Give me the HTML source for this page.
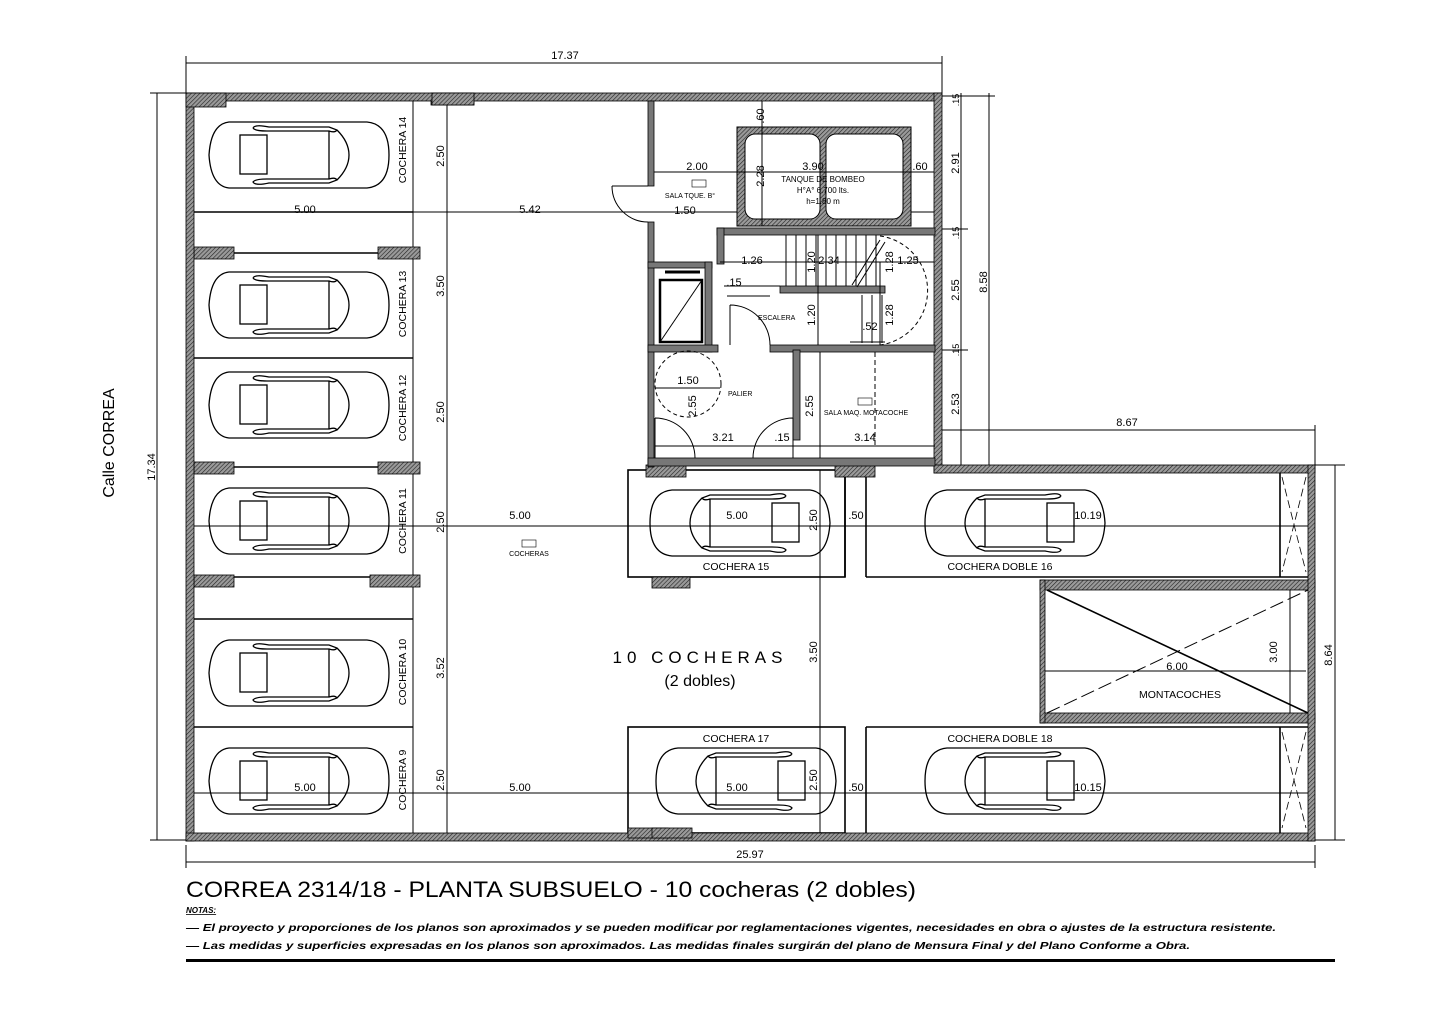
<!DOCTYPE html>
<html><head><meta charset="utf-8"><style>
html,body{margin:0;padding:0;background:#fff;}
svg{display:block;}
text{font-family:"Liberation Sans",sans-serif;fill:#000;}
</style></head><body>
<svg width="1440" height="1018" viewBox="0 0 1440 1018" xmlns="http://www.w3.org/2000/svg">
<defs>
<pattern id="h" width="3" height="3" patternUnits="userSpaceOnUse" patternTransform="rotate(45)">
<rect width="3" height="3" fill="#9a9a9a"/><line x1="0" y1="0" x2="0" y2="3" stroke="#222" stroke-width="1.2"/>
</pattern>
<g id="car" fill="none" stroke="#000" stroke-width="1.3">
<path d="M20,0 H158 Q180,2 180,33 Q180,64 158,66 H20 Q2,64 0,33 Q2,2 20,0 Z"/>
<rect x="31" y="13" width="27" height="39"/>
<path d="M44,6 Q46,2 60,5 L120,5 L128,8 Q140,20 140,33 Q140,46 128,58 L120,61 L60,61 Q46,64 44,60 Q46,57 58,57 L120,57 Q126,55 128,58 M44,6 Q46,9 58,9 L120,9 Q126,11 128,8 M120,9 L120,57"/>
</g>
<g id="carR"><use href="#car" transform="translate(180,0) scale(-1,1)"/></g>
</defs>

<g stroke="#000" stroke-width="1" fill="none">
<line x1="186" y1="63" x2="942" y2="63"/><line x1="186" y1="56" x2="186" y2="93"/><line x1="942" y1="56" x2="942" y2="93"/>
<line x1="157" y1="93" x2="157" y2="840"/><line x1="150" y1="93" x2="186" y2="93"/><line x1="150" y1="840" x2="186" y2="840"/>
<line x1="186" y1="862" x2="1315" y2="862"/><line x1="186" y1="845" x2="186" y2="868"/><line x1="1315" y1="845" x2="1315" y2="868"/>
<line x1="989" y1="93" x2="989" y2="470"/><line x1="961" y1="93" x2="961" y2="470"/>
<line x1="942" y1="96" x2="995" y2="96"/><line x1="942" y1="229" x2="968" y2="229"/><line x1="942" y1="350" x2="968" y2="350"/><line x1="942" y1="467" x2="995" y2="467"/>
<line x1="1335" y1="465" x2="1335" y2="840"/><line x1="1315" y1="465" x2="1345" y2="465"/><line x1="1315" y1="840" x2="1345" y2="840"/>
<line x1="942" y1="430" x2="1315" y2="430"/><line x1="1315" y1="425" x2="1315" y2="465"/>
<line x1="194" y1="212" x2="940" y2="212"/>
<line x1="194" y1="526" x2="1308" y2="526"/>
<line x1="194" y1="793" x2="1308" y2="793"/>
<line x1="447" y1="101" x2="447" y2="833"/>
<line x1="820" y1="470" x2="820" y2="833"/>
<line x1="413" y1="101" x2="413" y2="833"/>
</g>

<g stroke="#000" stroke-width="1.6">
<line x1="194" y1="212" x2="413" y2="212"/>
<line x1="194" y1="253" x2="413" y2="253"/>
<line x1="194" y1="358" x2="413" y2="358"/>
<line x1="194" y1="467" x2="413" y2="467"/>
<line x1="194" y1="577" x2="413" y2="577"/>
<line x1="194" y1="619" x2="413" y2="619"/>
<line x1="194" y1="727" x2="413" y2="727"/>
</g>
<g fill="url(#h)" stroke="#000" stroke-width="0.8">
<rect x="194" y="247" width="40" height="12"/><rect x="378" y="247" width="42" height="12"/>
<rect x="194" y="462" width="40" height="12"/><rect x="378" y="462" width="42" height="12"/>
<rect x="194" y="575" width="40" height="12"/><rect x="370" y="575" width="50" height="12"/>
<rect x="431" y="93" width="43" height="12"/>
</g>

<g fill="none" stroke="#000" stroke-width="1.6">
<rect x="628" y="470" width="217" height="107"/>
<line x1="845" y1="470" x2="845" y2="577"/><line x1="866" y1="470" x2="866" y2="577"/>
<line x1="866" y1="577" x2="1308" y2="577"/>
<rect x="628" y="727" width="217" height="106"/>
<line x1="866" y1="727" x2="866" y2="833"/><line x1="866" y1="727" x2="1308" y2="727"/>
<line x1="1280" y1="472" x2="1280" y2="577"/><line x1="1280" y1="727" x2="1280" y2="833"/>
</g>
<g stroke="#000" stroke-width="0.8" stroke-dasharray="8,4" fill="none">
<path d="M1282,477 L1306,572 M1306,477 L1282,572 M1282,732 L1306,828 M1306,732 L1282,828"/>
</g>
<g fill="url(#h)" stroke="#000" stroke-width="0.8">
<rect x="1040" y="580" width="275" height="10"/>
<rect x="1040" y="713" width="275" height="10"/>
<rect x="1040" y="580" width="5" height="143"/>
<rect x="652" y="577" width="38" height="11"/>
</g>
<g stroke="#000" fill="none">
<line x1="1047" y1="590" x2="1308" y2="713" stroke-width="1.6"/>
<line x1="1047" y1="713" x2="1308" y2="590" stroke-width="1" stroke-dasharray="14,5"/>
<line x1="1045" y1="671" x2="1306" y2="671" stroke-width="1"/>
<line x1="1290" y1="590" x2="1290" y2="713" stroke-width="1"/>
</g>

<g fill="url(#h)" stroke="#000" stroke-width="0.8">
<rect x="186" y="93" width="756" height="8"/>
<rect x="186" y="93" width="8" height="748"/>
<rect x="186" y="833" width="1129" height="8"/>
<rect x="934" y="93" width="8" height="380"/>
<rect x="934" y="465" width="381" height="8"/>
<rect x="1308" y="465" width="7" height="376"/>
<rect x="186" y="93" width="40" height="14"/><rect x="432" y="93" width="42" height="12"/>
<rect x="628" y="828" width="40" height="10"/><rect x="652" y="828" width="40" height="10"/>
<rect x="835" y="465" width="40" height="12"/><rect x="646" y="465" width="40" height="12"/>
</g>

<g fill="#777" stroke="#000" stroke-width="0.8">
<rect x="648" y="101" width="6" height="85"/>
<rect x="648" y="222" width="6" height="245"/>
<rect x="717" y="228" width="218" height="7"/>
<rect x="717" y="228" width="7" height="36"/>
<rect x="648" y="262" width="64" height="6"/>
<rect x="705" y="262" width="7" height="90"/>
<rect x="648" y="345" width="70" height="7"/>
<rect x="770" y="345" width="165" height="7"/>
<rect x="793" y="350" width="7" height="90"/>
<rect x="648" y="458" width="287" height="8"/>
<rect x="780" y="286" width="105" height="7"/>
</g>
<rect x="737" y="127" width="174" height="99" fill="url(#h)" stroke="#000"/>
<rect x="745" y="134" width="75" height="85" rx="10" fill="#fff" stroke="#000"/>
<rect x="826" y="134" width="77" height="85" rx="10" fill="#fff" stroke="#000"/>
<g fill="none" stroke="#000" stroke-width="1">
<rect x="660" y="280" width="42" height="62" stroke-width="2.5"/>
<line x1="660" y1="342" x2="702" y2="280"/>
<line x1="665" y1="272" x2="700" y2="272" stroke-width="3"/>
<path d="M786,235 V286 M796,235 V286 M806,235 V286 M816,235 V286 M826,235 V286 M836,235 V286 M846,235 V286 M856,235 V286 M866,235 V286 M876,235 V286"/>
<path d="M862,295 V343 M872,295 V343 M882,295 V343 M850,342 H885"/>
<path d="M880,240 L852,285 M885,242 L857,287" />
<line x1="727" y1="296" x2="770" y2="296"/>
<path d="M880,236 A55,55 0 0 1 880,345" stroke-dasharray="4,3"/>
<circle cx="688" cy="384" r="33" stroke-dasharray="4,3"/>
<path d="M612,186 H648 M612,186 A36,36 0 0 0 648,222"/>
<path d="M730,305 V345 M730,305 A40,40 0 0 1 770,345"/>
<path d="M655,418 V458 M655,418 A40,40 0 0 1 695,458"/>
<path d="M793,418 V458 M793,418 A40,40 0 0 0 753,458"/>
<line x1="654" y1="172" x2="934" y2="172"/>
<line x1="654" y1="212" x2="720" y2="212"/>
<line x1="762" y1="101" x2="762" y2="226"/>
<line x1="720" y1="262" x2="934" y2="262"/>
<line x1="724" y1="286" x2="780" y2="286"/>
<line x1="818" y1="235" x2="818" y2="345"/>
<line x1="880" y1="262" x2="880" y2="345"/>
<line x1="655" y1="388" x2="720" y2="388"/>
<line x1="655" y1="446" x2="935" y2="446"/>
<line x1="820" y1="352" x2="820" y2="458"/>
<line x1="875" y1="352" x2="875" y2="446" stroke-dasharray="5,3"/>
</g>

<use href="#car" x="209" y="122"/>
<use href="#car" x="209" y="272"/>
<use href="#car" x="209" y="372"/>
<use href="#car" x="209" y="488"/>
<use href="#car" x="209" y="640"/>
<use href="#car" x="209" y="748"/>
<use href="#carR" x="650" y="490"/>
<use href="#carR" x="925" y="490"/>
<use href="#carR" x="656" y="748"/>
<use href="#carR" x="925" y="748"/>

<g font-size="11">
<text x="565" y="59" text-anchor="middle">17.37</text>
<text x="750" y="858" text-anchor="middle">25.97</text>
<text x="1127" y="426" text-anchor="middle">8.67</text>
<text transform="translate(155,467) rotate(-90)" text-anchor="middle">17.34</text>
<text transform="translate(987,282) rotate(-90)" text-anchor="middle">8.58</text>
<text transform="translate(1332,655) rotate(-90)" text-anchor="middle">8.64</text>
<text transform="translate(959,163) rotate(-90)" text-anchor="middle">2.91</text>
<text transform="translate(959,290) rotate(-90)" text-anchor="middle">2.55</text>
<text transform="translate(959,404) rotate(-90)" text-anchor="middle">2.53</text>
<text transform="translate(959,100) rotate(-90)" text-anchor="middle" font-size="9">.15</text>
<text transform="translate(959,233) rotate(-90)" text-anchor="middle" font-size="9">.15</text>
<text transform="translate(959,350) rotate(-90)" text-anchor="middle" font-size="9">.15</text>
<text x="305" y="213" text-anchor="middle">5.00</text>
<text x="530" y="213" text-anchor="middle">5.42</text>
<text x="520" y="519" text-anchor="middle">5.00</text>
<text x="737" y="519" text-anchor="middle">5.00</text>
<text x="856" y="519" text-anchor="middle">.50</text>
<text x="1088" y="519" text-anchor="middle">10.19</text>
<text x="305" y="791" text-anchor="middle">5.00</text>
<text x="520" y="791" text-anchor="middle">5.00</text>
<text x="737" y="791" text-anchor="middle">5.00</text>
<text x="856" y="791" text-anchor="middle">.50</text>
<text x="1088" y="791" text-anchor="middle">10.15</text>
<text transform="translate(444,156) rotate(-90)" text-anchor="middle">2.50</text>
<text transform="translate(444,286) rotate(-90)" text-anchor="middle">3.50</text>
<text transform="translate(444,412) rotate(-90)" text-anchor="middle">2.50</text>
<text transform="translate(444,522) rotate(-90)" text-anchor="middle">2.50</text>
<text transform="translate(444,668) rotate(-90)" text-anchor="middle">3.52</text>
<text transform="translate(444,780) rotate(-90)" text-anchor="middle">2.50</text>
<text transform="translate(817,520) rotate(-90)" text-anchor="middle">2.50</text>
<text transform="translate(817,652) rotate(-90)" text-anchor="middle">3.50</text>
<text transform="translate(817,780) rotate(-90)" text-anchor="middle">2.50</text>
<text transform="translate(1277,652) rotate(-90)" text-anchor="middle">3.00</text>
<text x="1177" y="670" text-anchor="middle">6.00</text>
<text x="697" y="170" text-anchor="middle">2.00</text>
<text x="813" y="170" text-anchor="middle">3.90</text>
<text x="920" y="170" text-anchor="middle">.60</text>
<text x="685" y="214" text-anchor="middle">1.50</text>
<text transform="translate(764,116) rotate(-90)" text-anchor="middle">.60</text>
<text transform="translate(764,176) rotate(-90)" text-anchor="middle">2.28</text>
<text x="752" y="264" text-anchor="middle">1.26</text>
<text x="829" y="264" text-anchor="middle">2.34</text>
<text x="908" y="264" text-anchor="middle">1.25</text>
<text x="734" y="286" text-anchor="middle">.15</text>
<text transform="translate(815,315) rotate(-90)" text-anchor="middle">1.20</text>
<text transform="translate(815,262) rotate(-90)" text-anchor="middle">1.20</text>
<text transform="translate(893,262) rotate(-90)" text-anchor="middle">1.28</text>
<text transform="translate(893,315) rotate(-90)" text-anchor="middle">1.28</text>
<text x="870" y="330" text-anchor="middle">.52</text>
<text x="688" y="384" text-anchor="middle">1.50</text>
<text transform="translate(696,406) rotate(-90)" text-anchor="middle">2.55</text>
<text transform="translate(813,406) rotate(-90)" text-anchor="middle">2.55</text>
<text x="723" y="441" text-anchor="middle">3.21</text>
<text x="782" y="441" text-anchor="middle">.15</text>
<text x="865" y="441" text-anchor="middle">3.14</text>
</g>
<g font-size="10.5">
<text transform="translate(406,150) rotate(-90)" text-anchor="middle">COCHERA 14</text>
<text transform="translate(406,304) rotate(-90)" text-anchor="middle">COCHERA 13</text>
<text transform="translate(406,408) rotate(-90)" text-anchor="middle">COCHERA 12</text>
<text transform="translate(406,521) rotate(-90)" text-anchor="middle">COCHERA 11</text>
<text transform="translate(406,672) rotate(-90)" text-anchor="middle">COCHERA 10</text>
<text transform="translate(406,780) rotate(-90)" text-anchor="middle">COCHERA 9</text>
<text x="736" y="570" text-anchor="middle">COCHERA 15</text>
<text x="1000" y="570" text-anchor="middle">COCHERA DOBLE 16</text>
<text x="736" y="742" text-anchor="middle">COCHERA 17</text>
<text x="1000" y="742" text-anchor="middle">COCHERA DOBLE 18</text>
<text x="1180" y="698" text-anchor="middle">MONTACOCHES</text>
</g>
<g font-size="7">
<text x="690" y="198" text-anchor="middle">SALA TQUE. B°</text>
<rect x="692" y="180" width="14" height="7" fill="none" stroke="#000" stroke-width="0.6"/>
<text x="823" y="182" text-anchor="middle" font-size="8">TANQUE DE BOMBEO</text>
<text x="823" y="193" text-anchor="middle" font-size="8">H°A° 6.700 lts.</text>
<text x="823" y="204" text-anchor="middle" font-size="8">h=1.80 m</text>
<text x="758" y="320">ESCALERA</text>
<text x="728" y="396">PALIER</text>
<rect x="858" y="398" width="14" height="7" fill="none" stroke="#000" stroke-width="0.6"/>
<text x="866" y="415" text-anchor="middle">SALA MAQ. MOTACOCHE</text>
<rect x="522" y="540" width="14" height="7" fill="none" stroke="#000" stroke-width="0.6"/>
<text x="529" y="556" text-anchor="middle">COCHERAS</text>
</g>
<text x="700" y="663" text-anchor="middle" font-size="17" letter-spacing="5">10 COCHERAS</text>
<text x="700" y="686" text-anchor="middle" font-size="16">(2 dobles)</text>
<text transform="translate(114,443) rotate(-90)" text-anchor="middle" font-size="16">Calle  CORREA</text>
<text x="186" y="897" font-size="22" textLength="730" lengthAdjust="spacingAndGlyphs">CORREA 2314/18 - PLANTA  SUBSUELO -  10 cocheras (2 dobles)</text>
<text x="186" y="913" font-size="8" font-style="italic" font-weight="bold" text-decoration="underline">NOTAS:</text>
<text x="186" y="931" font-size="10" font-style="italic" font-weight="bold" textLength="1090" lengthAdjust="spacingAndGlyphs">— El proyecto y proporciones de los planos son aproximados y se pueden modificar por reglamentaciones vigentes, necesidades en obra o ajustes de la estructura resistente.</text>
<text x="186" y="949" font-size="10" font-style="italic" font-weight="bold" textLength="1004" lengthAdjust="spacingAndGlyphs">— Las medidas y superficies expresadas en los planos son aproximados. Las medidas finales surgirán del plano de Mensura Final y del Plano Conforme a Obra.</text>
<rect x="186" y="959" width="1149" height="3" fill="#000"/>
</svg>
</body></html>
